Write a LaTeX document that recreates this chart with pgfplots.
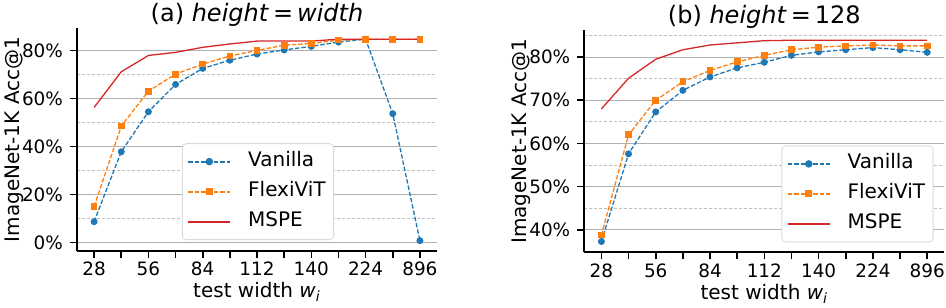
\documentclass[border=0pt]{standalone}
\usepackage{fontspec}
\setmainfont{DejaVu Sans}
\usepackage{pgfplots}
\pgfplotsset{compat=1.18}
\definecolor{cblue}{HTML}{1F77B4}
\definecolor{corange}{HTML}{FF7F0E}
\definecolor{cred}{HTML}{D62728}
\pgfplotsset{
  mystyle/.style={
    scale only axis, width=180pt, height=111.2pt,
    xmin=-0.63, xmax=12.63,
    axis x line=bottom, axis y line=left,
    axis line style={-, line width=1.1pt, black},
    xtick={0,...,12},
    xticklabels={28,,56,,84,,112,,140,,224,,896},
    tick align=outside, major tick length=3.5pt, minor tick length=0pt,
    tick style={black, line width=0.8pt},
    ticklabel style={font=\fontsize{9.2}{10}\selectfont},
    xticklabel style={yshift=1.5pt},
    label style={font=\fontsize{12}{14}\selectfont},
    every axis title/.style={font=\fontsize{12}{14}\selectfont, at={(0.5,1)}, anchor=base, yshift=3.3pt},
    every axis y label/.style={at={(axis description cs:-0.1606,0.5)}, rotate=90, anchor=base},
    every axis x label/.style={at={(axis description cs:0.5,0)}, anchor=base, yshift=-23.5pt},
    ymajorgrids, yminorgrids,
    major grid style={color=black!31, line width=0.5pt},
    minor grid style={color=black!25, line width=0.4pt, dash pattern=on 1.5pt off 1pt},
    xlabel={test width \textit{w}\textsubscript{\textit{i}}},
    ylabel={ImageNet-1K Acc@1},
    legend cell align=left,
    legend style={draw=black!15, rounded corners=2pt, fill=white,
      font=\fontsize{10}{12}\selectfont, row sep=2pt,
      inner xsep=2.5pt, inner ysep=2.5pt,
      nodes={inner sep=1.5pt, text height=7.5pt, text depth=2.5pt},
      /tikz/every odd column/.append style={column sep=7pt}},
  },
  vanilla/.style={color=cblue, line width=0.65pt, dash pattern=on 2.2pt off 1pt, mark=*, mark size=1.4pt, mark options={solid},
    legend image code/.code={\draw[draw=cblue, line width=0.9pt, dash pattern=on 2.2pt off 1pt, mark=*, mark size=1.4pt, mark options={solid, draw=cblue, fill=cblue}, mark repeat=2, mark phase=2] plot coordinates {(0pt,0pt) (10.5pt,0pt) (21pt,0pt)};}},
  flexi/.style={color=corange, line width=0.65pt, dash pattern=on 2.2pt off 1pt, mark=square*, mark size=1.35pt, mark options={solid},
    legend image code/.code={\draw[draw=corange, line width=0.9pt, dash pattern=on 2.2pt off 1pt, mark=square*, mark size=1.35pt, mark options={solid, draw=corange, fill=corange}, mark repeat=2, mark phase=2] plot coordinates {(0pt,0pt) (10.5pt,0pt) (21pt,0pt)};}},
  mspe/.style={color=cred, line width=0.65pt, no marks,
    legend image code/.code={\draw[draw=cred, line width=0.9pt] (0pt,0pt) -- (21pt,0pt);}},
}
\begin{document}
\begin{tikzpicture}
\useasboundingbox (-38.5pt,-28.65pt) rectangle (434.5pt,125.35pt);
\begin{axis}[mystyle, at={(0pt,0pt)}, anchor=south west,
  title={(a) \textit{height}\,=\,\textit{width}},
  ymin=-3.5, ymax=89.35,
  ytick={0,20,40,60,80}, yticklabels={0\%,20\%,40\%,60\%,80\%},
  minor ytick={10,30,50,70},
  legend style={at={(0.714,0.048)}, anchor=south east},
]
\addplot[vanilla] coordinates {(0,8.6) (1,37.8) (2,54.5) (3,65.9) (4,72.6) (5,76.0) (6,78.6) (7,80.3) (8,81.8) (9,83.6) (10,84.8) (11,53.7) (12,0.7)};
\addlegendentry{Vanilla}
\addplot[flexi] coordinates {(0,14.9) (1,48.5) (2,63.1) (3,70.2) (4,74.4) (5,77.8) (6,80.1) (7,82.3) (8,83.0) (9,84.4) (10,84.8) (11,84.8) (12,84.8)};
\addlegendentry{FlexiViT}
\addplot[mspe] coordinates {(0,56.3) (1,71.2) (2,78.0) (3,79.3) (4,81.4) (5,82.8) (6,84.0) (7,84.0) (8,84.0) (9,84.8) (10,84.8) (11,84.8) (12,84.8)};
\addlegendentry{MSPE}
\end{axis}
\begin{axis}[mystyle, at={(253.65pt,-0.8pt)}, anchor=south west,
  title={(b) \textit{height}\,=\,128},
  ymin=34.8, ymax=86.3,
  ytick={40,50,60,70,80}, yticklabels={40\%,50\%,60\%,70\%,80\%},
  minor ytick={35,45,55,65,75,85},
  legend style={at={(0.970,0.045)}, anchor=south east},
]
\addplot[vanilla] coordinates {(0,37.3) (1,57.6) (2,67.3) (3,72.3) (4,75.4) (5,77.5) (6,78.8) (7,80.4) (8,81.2) (9,81.7) (10,82.2) (11,81.7) (12,81.1)};
\addlegendentry{Vanilla}
\addplot[flexi] coordinates {(0,38.8) (1,62.0) (2,70.0) (3,74.3) (4,76.9) (5,78.9) (6,80.4) (7,81.7) (8,82.3) (9,82.6) (10,82.8) (11,82.6) (12,82.6)};
\addlegendentry{FlexiViT}
\addplot[mspe] coordinates {(0,68.0) (1,75.1) (2,79.5) (3,81.7) (4,82.8) (5,83.3) (6,83.8) (7,83.9) (8,83.9) (9,83.9) (10,83.9) (11,83.9) (12,83.9)};
\addlegendentry{MSPE}
\end{axis}
\end{tikzpicture}
\end{document}
